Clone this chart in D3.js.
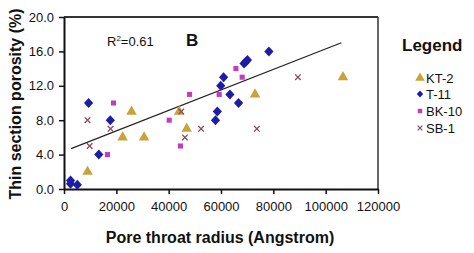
<!DOCTYPE html>
<html><head><meta charset="utf-8">
<script src="https://cdn.jsdelivr.net/npm/d3@7"></script>
<style>body{margin:0;background:#fff;} svg{display:block;font-family:Arial,"Liberation Sans",sans-serif;}</style>
</head><body>
<script>
const xTicks = [0,20000,40000,60000,80000,100000,120000];
const yTicks = [0,4,8,12,16,20];
const kt2 = [[9000,2],[22400,6],[25800,9],[30600,6],[44000,9],[46900,7],[73000,11],[106600,13]];
const t11 = [[2500,1],[2500,0.6],[5100,0.5],[9400,10],[13300,4],[17700,8],[57900,8],[58600,9],[59900,12],[61000,13],[63400,11],[66700,10],[68800,14.6],[69500,14.8],[70100,15],[78300,16]];
const bk10 = [[16600,4],[18900,10],[40200,8],[44500,5],[48000,11],[59300,11],[65700,14],[68100,13]];
const sb1 = [[9000,8],[9800,5],[17800,7],[44800,9],[46200,6],[52400,7],[73700,7],[89400,13]];
const trendX = [2700,106000];
const trendY = [4.7,17.0];
const seriesNames = ["KT-2","T-11","BK-10","SB-1"];

const W=474,H=253;
const svg=d3.select("body").append("svg").attr("width",W).attr("height",H);
const x=d3.scaleLinear().domain([0,120000]).range([64,378]);
const y=d3.scaleLinear().domain([0,20]).range([189,17]);

// frame top/right
svg.append("line").attr("x1",64).attr("x2",378).attr("y1",17).attr("y2",17).attr("stroke","#333").attr("stroke-width",2);
svg.append("line").attr("x1",378).attr("x2",378).attr("y1",17).attr("y2",189).attr("stroke","#333").attr("stroke-width",1.5);

const xa=svg.append("g").attr("transform","translate(0,189)").call(d3.axisBottom(x).tickValues(xTicks).tickSize(5).tickSizeOuter(0).tickFormat(d3.format("d")));
const ya=svg.append("g").attr("transform","translate(64,0)").call(d3.axisLeft(y).tickValues(yTicks).tickSize(5).tickSizeOuter(0).tickFormat(d3.format(".1f")));
[xa,ya].forEach(a=>{
  a.select(".domain").attr("stroke","#111").attr("stroke-width",2);
  a.selectAll(".tick line").attr("stroke","#111").attr("stroke-width",1.5);
  a.selectAll(".tick text").attr("fill","#111").style("font-size","13px").style("font-family","Arial,'Liberation Sans',sans-serif");
});
xa.selectAll(".tick text").attr("dy","1.05em");
ya.selectAll(".tick text").attr("x",-10);

// trend line
svg.append("line").attr("x1",x(trendX[0])).attr("y1",y(trendY[0])).attr("x2",x(trendX[1])).attr("y2",y(trendY[1]))
  .attr("stroke","#222").attr("stroke-width",1.2);

const colors={"KT-2":"#c9a23a","T-11":"#1c1ca8","BK-10":"#c23cc0","SB-1":"#8a4a5a"};
const tri=d3.symbol().type(d3.symbolTriangle).size(48);
function diamondPath(w,h){return `M0,${-h}L${w},0L0,${h}L${-w},0Z`;}
const dia=()=>diamondPath(4.6,5);
const sq=d3.symbol().type(d3.symbolSquare).size(26);
const cross=d3.symbol().type(d3.symbolX).size(22);

function draw(data,sym,name,stroke){
  const g=svg.append("g");
  g.selectAll("path").data(data).join("path")
    .attr("d",sym).attr("transform",d=>`translate(${x(d[0])},${y(d[1])})`)
    .attr("fill",stroke?"none":colors[name]).attr("stroke",stroke?colors[name]:"none").attr("stroke-width",1.3);
}
draw(kt2,tri,"KT-2");
draw(sb1,cross,"SB-1",true);
draw(bk10,sq,"BK-10");
draw(t11,dia,"T-11");

// annotations
const r=svg.append("text").attr("x",107).attr("y",46).style("font-size","13px").attr("fill","#111");
r.append("tspan").text("R");
r.append("tspan").attr("dy",-5).style("font-size","8px").text("2");
r.append("tspan").attr("dy",5).text("=0.61");
svg.append("text").attr("x",186).attr("y",46).style("font-size","17px").style("font-weight","bold").attr("fill","#111").text("B");

// axis titles
svg.append("text").attr("x",220).attr("y",243).attr("text-anchor","middle").style("font-size","16px").style("font-weight","bold").attr("fill","#111").text("Pore throat radius (Angstrom)");
svg.append("text").attr("transform","translate(21,104) rotate(-90)").attr("text-anchor","middle").style("font-size","16px").style("font-weight","bold").attr("fill","#111").text("Thin section porosity (%)");

// legend
svg.append("text").attr("x",402).attr("y",51).style("font-size","17px").style("font-weight","bold").attr("fill","#111").text("Legend");
seriesNames.forEach((n,i)=>{
  const yy=[78,94,111,128][i];
  const p = i===1 ? diamondPath(3.2,3.5) : d3.symbol().type([d3.symbolTriangle,null,d3.symbolSquare,d3.symbolX][i]).size([40,0,20,16][i])();
  svg.append("path").attr("d",p)
    .attr("transform",`translate(420,${yy})`)
    .attr("fill",i===3?"none":colors[n]).attr("stroke",i===3?colors[n]:"none").attr("stroke-width",1.2);
  svg.append("text").attr("x",426).attr("y",yy+5).style("font-size","13px").attr("fill","#111").text(n);
});
</script>
</body></html>
